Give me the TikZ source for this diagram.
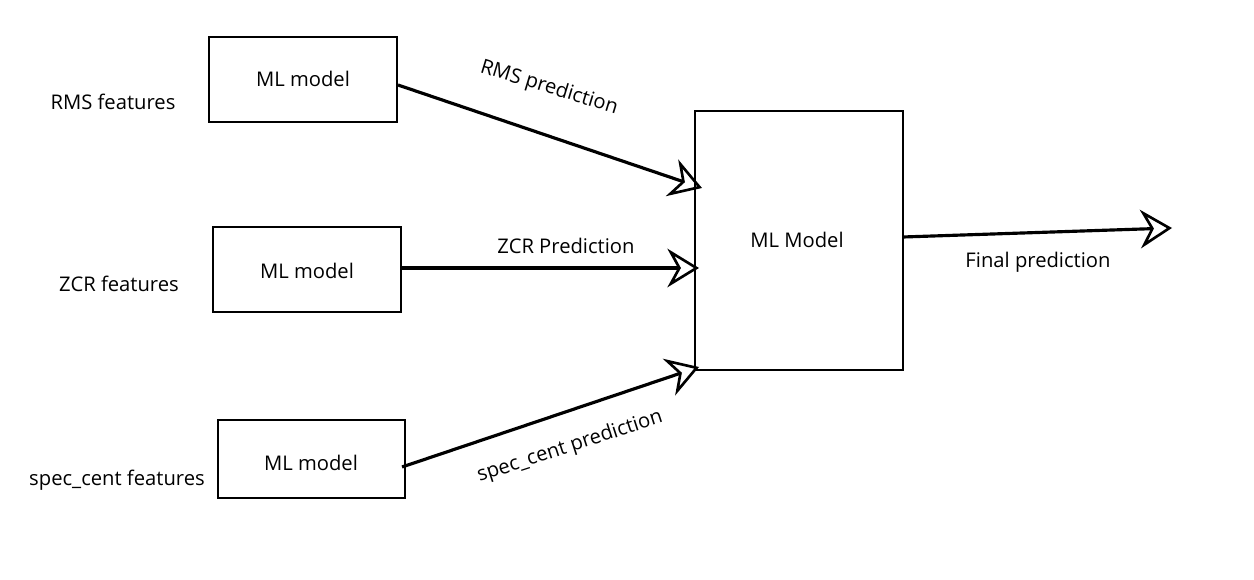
\documentclass[tikz,border=0pt]{standalone}
\usepackage{fontspec}
\setmainfont{Open Sans}
\usetikzlibrary{arrows.meta}
\begin{document}
\begin{tikzpicture}[x=0.02cm,y=-0.02cm,
  box/.style={draw,line width=1.5pt},
  arr/.style={line width=1.8pt,-{Stealth[open,inset=6pt,length=18pt,width=22pt,line width=1.5pt]}},
  lbl/.style={font=\fontsize{11.5}{13}\selectfont}]
\useasboundingbox (0,0) rectangle (1254,580);
\draw[box] (209,37) rectangle (397,122); \node[lbl] (m1) at (303,79) {ML model};
\draw[box] (213,227) rectangle (401,312); \node[lbl] (m2) at (307,271) {ML model};
\draw[box] (218,420) rectangle (405,498); \node[lbl] (m3) at (311,463) {ML model};
\draw[box] (695,111) rectangle (903,370); \node[lbl] (big) at (797,240) {ML Model};
\node[lbl] (f1) at (113,102) {RMS features};
\node[lbl] (f2) at (119,284) {ZCR features};
\node[lbl] (f3) at (117,480) {spec\_cent features};
\coordinate (a1) at (398,85); \coordinate (b1) at (702,188);
\coordinate (a2) at (401,268); \coordinate (b2) at (699,268);
\coordinate (a3) at (402,467); \coordinate (b3) at (699,367);
\coordinate (a4) at (903,237); \coordinate (b4) at (1172,228);
\draw[arr] (a1) -- (b1);
\draw[arr] (a2) -- (b2);
\draw[arr] (a3) -- (b3);
\draw[arr] (a4) -- (b4);
\node[lbl,rotate=-17] (l1) at (549,88) {RMS prediction};
\node[lbl] (l2) at (566,246) {ZCR Prediction};
\node[lbl,rotate=18] (l3) at (570,447) {spec\_cent prediction};
\node[lbl] (l4) at (1038,262) {Final prediction};
\end{tikzpicture}
\end{document}
